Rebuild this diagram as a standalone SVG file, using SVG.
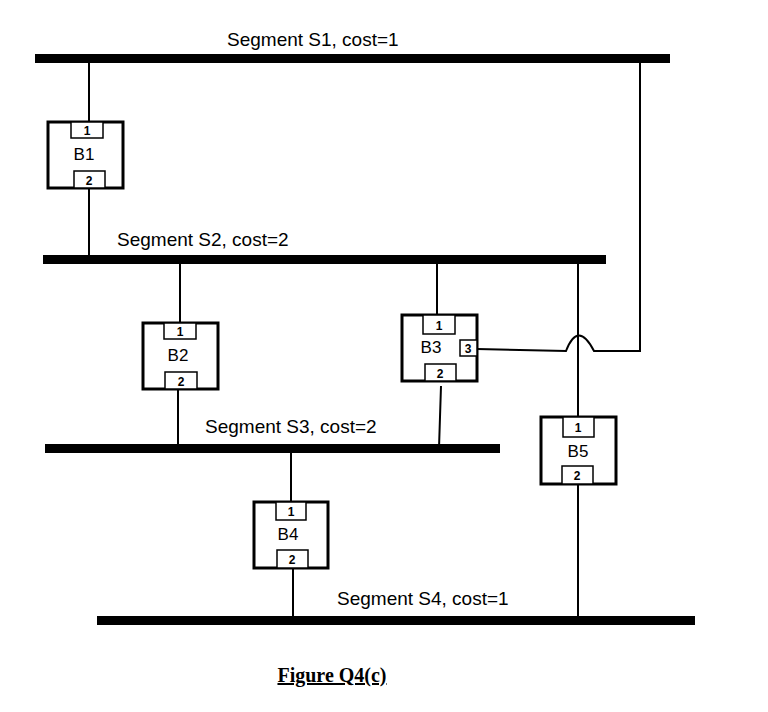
<svg xmlns="http://www.w3.org/2000/svg" width="768" height="712" viewBox="0 0 768 712">
<style>
.seg{fill:#000}
.ln{stroke:#000;stroke-width:2;fill:none}
.box{fill:#fff;stroke:#000;stroke-width:3}
.port{fill:#fff;stroke:#000;stroke-width:1.5}
.lbl{font-family:"Liberation Sans",Arial,sans-serif;font-size:19px;fill:#000}
.nm{font-family:"Liberation Sans",Arial,sans-serif;font-size:17px;fill:#000;text-anchor:middle}
.pn{font-family:"Liberation Sans",Arial,sans-serif;font-size:12px;font-weight:bold;fill:#000;text-anchor:middle}
</style>
<rect width="768" height="712" fill="#fff"/>
<g id="segments">
<rect class="seg" x="35" y="54" width="635" height="9"/>
<rect class="seg" x="43" y="255" width="563" height="9"/>
<rect class="seg" x="45" y="444" width="455" height="9"/>
<rect class="seg" x="97" y="616" width="598" height="9"/>
<text class="lbl" x="227" y="46">Segment S1, cost=1</text>
<text class="lbl" x="117" y="246">Segment S2, cost=2</text>
<text class="lbl" x="205" y="433">Segment S3, cost=2</text>
<text class="lbl" x="337" y="605">Segment S4, cost=1</text>
</g>
<g id="connectors">
<path class="ln" d="M89 58V122M89 188V258"/>
<path class="ln" d="M180 259V323M178 389V448"/>
<path class="ln" d="M437 259V315M441 386L439 448"/>
<path class="ln" d="M477 349L566 351Q578 320 594 351L640 351V58"/>
<path class="ln" d="M578 259V417M578 484V622"/>
<path class="ln" d="M291 448V502M293 568V620"/>
</g>
<g id="B1"><rect class="box" x="48" y="122" width="75" height="66"/>
<rect class="port" x="71" y="122" width="32" height="16"/><text class="pn" x="87" y="135">1</text>
<text class="nm" x="84" y="160">B1</text>
<rect class="port" x="74" y="171" width="31" height="17"/><text class="pn" x="89" y="185">2</text></g>
<g id="B2"><rect class="box" x="143" y="323" width="75" height="66"/>
<rect class="port" x="164" y="323" width="32" height="16"/><text class="pn" x="180" y="336">1</text>
<text class="nm" x="178" y="361">B2</text>
<rect class="port" x="165" y="372" width="32" height="17"/><text class="pn" x="181" y="386">2</text></g>
<g id="B3"><rect class="box" x="402" y="315" width="75" height="66"/>
<rect class="port" x="423" y="315" width="32" height="19"/><text class="pn" x="439" y="330">1</text>
<text class="nm" x="431" y="353">B3</text>
<rect class="port" x="460" y="340" width="17" height="16"/><text class="pn" x="468" y="353">3</text>
<rect class="port" x="425" y="364" width="31" height="17"/><text class="pn" x="440" y="378">2</text></g>
<g id="B5"><rect class="box" x="541" y="417" width="75" height="67"/>
<rect class="port" x="563" y="417" width="31" height="20"/><text class="pn" x="578" y="432">1</text>
<text class="nm" x="578" y="457">B5</text>
<rect class="port" x="562" y="466" width="31" height="18"/><text class="pn" x="577" y="480">2</text></g>
<g id="B4"><rect class="box" x="254" y="502" width="74" height="66"/>
<rect class="port" x="276" y="502" width="30" height="18"/><text class="pn" x="291" y="516">1</text>
<text class="nm" x="288" y="540">B4</text>
<rect class="port" x="277" y="550" width="31" height="18"/><text class="pn" x="292" y="564">2</text></g>
<text x="332" y="682" font-family="Liberation Serif,serif" font-size="20" font-weight="bold" text-anchor="middle" text-decoration="underline">Figure Q4(c)</text>
</svg>
